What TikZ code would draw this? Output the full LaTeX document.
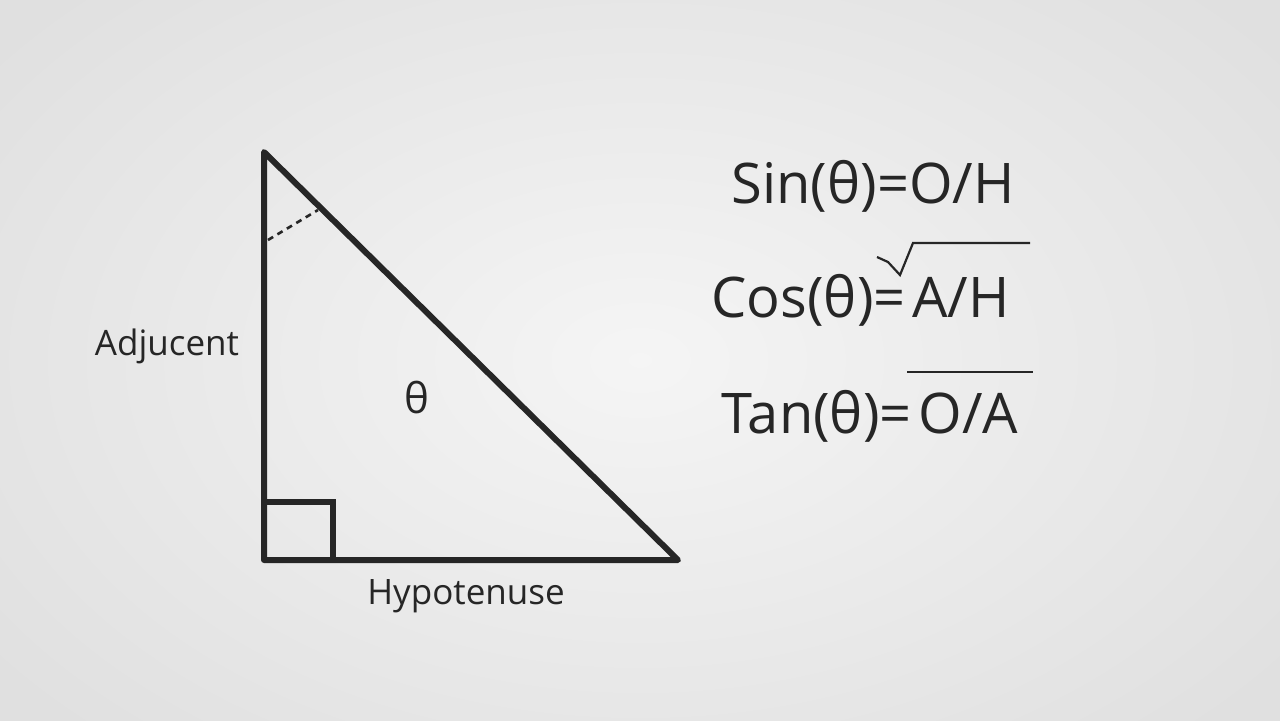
\documentclass[tikz,border=0pt]{standalone}
\usepackage{fontspec}
\setmainfont{Open Sans}
\usetikzlibrary{calc}

\tikzset{
  side/.style={line width=3pt, draw=black!85, line join=round, line cap=round},
  lbl/.style={font=\fontsize{17.5}{20}\selectfont, text=black!85, inner sep=0pt},
  formula/.style={font=\fontsize{28}{32}\selectfont, text=black!85, inner sep=0pt, anchor=base west},
  bar/.style={line width=1.1pt, draw=black!85}
}

\begin{document}
\begin{tikzpicture}[x=0.5pt,y=-0.5pt]
  \useasboundingbox (0,0) rectangle (1280,720);
  \shade[inner color=white!96!black, outer color=black!12] (-150,-150) rectangle (1430,870);
  % triangle corners
  \coordinate (top) at (264,152);
  \coordinate (bl) at (264,560);
  \coordinate (br) at (678,560);
  % triangle
  \draw[side] (top) -- (bl) -- (br) -- cycle;
  \draw[line width=2.6pt, draw=black!85] (264,502) -| (333,560);
  \draw[line width=1.3pt, dash pattern=on 3pt off 2.5pt, draw=black!85] (268,240) -- (318,210);
  % labels
  \node[lbl] (adj) at (167,346) {Adjucent};
  \node[lbl] (hyp) at (466,596) {Hypotenuse};
  \node[lbl, font=\fontsize{21}{24}\selectfont] (theta) at (417,397) {θ};
  % formulas
  \node[formula] (sin) at (731,203) {Sin(θ)=O/H};
  \node[formula] (cos) at (711,317) {Cos(θ)=\hspace{0.12em}A/H};
  \node[formula] (tan) at (721,433) {Tan(θ)=\hspace{0.12em}O/A};
  % radical and bar
  \draw[bar] (877,257) -- (888,262) -- (900,275) -- (913,243) -- (1030,243);
  \draw[bar] (907,372) -- (1033,372);
\end{tikzpicture}
\end{document}
